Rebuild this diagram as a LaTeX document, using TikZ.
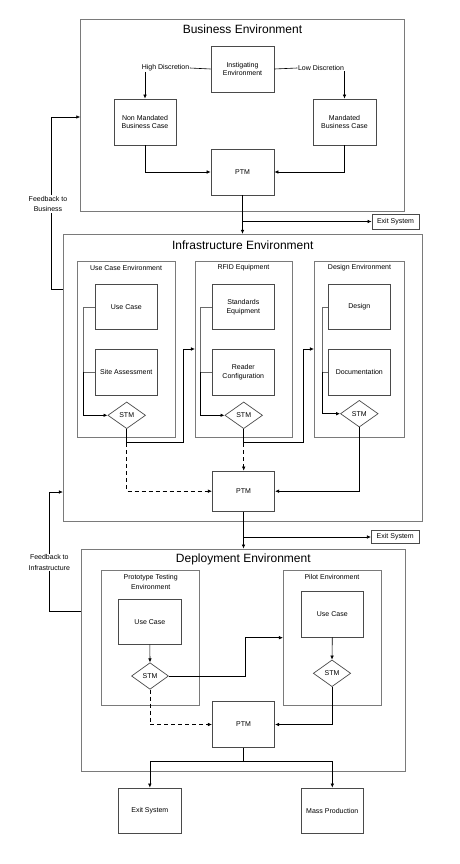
\documentclass[tikz,border=0pt]{standalone}
\usepackage{fontspec}
\setmainfont{Liberation Sans}
\usetikzlibrary{arrows.meta,shapes.geometric}
\definecolor{envgray}{HTML}{7A7A7A}
\definecolor{boxgray}{HTML}{4A4A4A}
\definecolor{stubgray}{HTML}{6A6A6A}
\tikzset{
  envbox/.style={draw=envgray,line width=0.9pt,rectangle,inner sep=0pt},
  subenv/.style={draw=envgray,line width=0.8pt,rectangle,inner sep=0pt},
  blk/.style={draw=boxgray,line width=0.8pt,rectangle,inner sep=1pt,align=center,font=\fontsize{7}{8.4}\selectfont},
  stmnode/.style={draw=boxgray,line width=0.7pt,diamond,inner sep=0pt,aspect=1.4,font=\fontsize{7}{8.4}\selectfont},
  title/.style={font=\fontsize{12}{14}\selectfont,inner sep=0pt},
  small/.style={font=\fontsize{7}{10.3}\selectfont,align=center,inner sep=0.5pt},
  conn/.style={draw=black,line width=0.6pt},
  arr/.style={conn,-{Latex[length=4pt,width=3.6pt]}},
  stub/.style={draw=stubgray,line width=0.6pt},
}
\begin{document}
\begin{tikzpicture}[x=1pt,y=-1pt]
\useasboundingbox[fill=white] (0,0) rectangle (460,864);

% ---------- Business environment
\node[envbox,minimum width=323.6pt,minimum height=192pt] (busenv) at (242.5,115) {};
\node[title] (bustitle) at (242.5,29) {Business Environment};
\node[blk,minimum width=63pt,minimum height=46pt] (inst) at (242.5,69) {Instigating\\Environment};
\node[small] (hd) at (165.5,68) {High Discretion};
\node[small] (ld) at (321,68) {Low Discretion};
\node[blk,minimum width=62pt,minimum height=46pt] (nonm) at (145,122) {Non Mandated\\Business Case};
\node[blk,minimum width=63pt,minimum height=46pt] (mand) at (344.5,122) {Mandated\\Business Case};
\node[blk,minimum width=63pt,minimum height=46pt] (ptm1) at (242.5,172) {PTM};
\node[blk,minimum width=47pt,minimum height=15pt] (exit1) at (395.5,221.5) {Exit System};

\draw[conn] (inst.west) -- (hd.east);
\draw[conn] (inst.east) -- (ld.west);
\draw[arr] (nonm.north |- hd.south) -- (nonm.north);
\draw[arr] (mand.north |- ld.south) -- (mand.north);
\draw[arr] (nonm.south) |- (ptm1.west);
\draw[arr] (mand.south) |- (ptm1.east);

% ---------- Infrastructure environment
\node[envbox,minimum width=359.4pt,minimum height=287.4pt] (infra) at (243,378) {};
\node[title] (inftitle) at (242.7,245) {Infrastructure Environment};
\node[subenv,minimum width=98pt,minimum height=175.3pt] (uce) at (126.3,349.35) {};
\node[subenv,minimum width=96.7pt,minimum height=175.3pt] (rfid) at (243.65,349.35) {};
\node[subenv,minimum width=90.4pt,minimum height=175.3pt] (dse) at (359.5,349.35) {};
\node[small] (ucelab) at (126,267.7) {Use Case Environment};
\node[small] (rfidlab) at (243.5,267.7) {RFID Equipment};
\node[small] (dselab) at (359.5,267.7) {Design Environment};

\node[blk,minimum width=62pt,minimum height=45.4pt] (uc) at (126.3,307) {Use Case};
\node[blk,minimum width=62pt,minimum height=45.7pt] (sa) at (126.3,372.2) {Site Assessment};
\node[blk,minimum width=62pt,minimum height=45.4pt] (se) at (243.3,307) {Standards\\Equipment};
\node[blk,minimum width=62pt,minimum height=45.7pt] (rc) at (243.3,372.2) {Reader\\Configuration};
\node[blk,minimum width=62pt,minimum height=45.4pt] (des) at (359.3,307) {Design};
\node[blk,minimum width=62pt,minimum height=45.7pt] (doc) at (359.3,372.2) {Documentation};

\node[stmnode,minimum width=37.7pt,minimum height=26.7pt] (stm1) at (126.7,415.3) {STM};
\node[stmnode,minimum width=37.7pt,minimum height=26.7pt] (stm2) at (243.7,415.3) {STM};
\node[stmnode,minimum width=37.7pt,minimum height=26.7pt] (stm3) at (359.3,413.7) {STM};

\node[blk,minimum width=62.4pt,minimum height=40.3pt] (ptm2) at (243.5,491.2) {PTM};
\node[blk,minimum width=47.7pt,minimum height=12.6pt] (exit2) at (395.2,537) {Exit System};

\coordinate (l1) at (83.3,0);
\coordinate (l2) at (200.3,0);
\coordinate (l3) at (322,0);
\draw[stub] (uc.west) -- (uc.west -| l1) -- (sa.west -| l1);
\draw[stub] (sa.west) -- (sa.west -| l1);
\draw[arr,line width=1.1pt] (sa.west -| l1) |- (stm1.west);
\draw[stub] (se.west) -- (se.west -| l2) -- (rc.west -| l2);
\draw[stub] (rc.west) -- (rc.west -| l2);
\draw[arr,line width=0.9pt] (rc.west -| l2) |- (stm2.west);
\draw[stub] (des.west) -- (des.west -| l3) -- (doc.west -| l3);
\draw[stub] (doc.west) -- (doc.west -| l3);
\draw[arr,line width=0.8pt] (doc.west -| l3) |- (stm3.west);

\coordinate (j1) at (183,442.7);
\coordinate (j1b) at (183,349);
\coordinate (j2) at (303,442.7);
\coordinate (j2b) at (303,349);
\draw[arr] (stm1.south) |- (j1) -- (j1b) -- (j1b -| rfid.west);
\draw[arr] (stm2.south) |- (j2) -- (j2b) -- (j2b -| dse.west);
\draw[arr,dashed,dash pattern=on 4pt off 3pt] (stm1.south) |- (ptm2.west);
\draw[arr,dashed,dash pattern=on 4pt off 3pt] (stm2.south) -- (stm2.south |- ptm2.north);
\draw[arr] (stm3.south) |- (ptm2.east);

% business -> infrastructure
\draw[arr] (ptm1.south) -- (ptm1.south |- infra.north);
\draw[arr] (ptm1.south |- exit1.west) -- (exit1.west);

% ---------- Deployment environment
\node[envbox,minimum width=323.6pt,minimum height=222.7pt] (dep) at (243.5,660.35) {};
\node[title] (deptitle) at (243.3,559.7) {Deployment Environment};
\node[subenv,minimum width=98pt,minimum height=134.3pt] (pte) at (150.3,637.85) {};
\node[subenv,minimum width=98pt,minimum height=134.3pt] (pil) at (332.3,637.85) {};
\node[small] (ptelab) at (150.7,582.2) {Prototype Testing\\Environment};
\node[small] (pillab) at (332,577) {Pilot Environment};

\node[blk,minimum width=62.3pt,minimum height=45.3pt] (uc2) at (149.85,621.65) {Use Case};
\node[blk,minimum width=62pt,minimum height=45.7pt] (uc3) at (332.3,614.15) {Use Case};
\node[stmnode,minimum width=37pt,minimum height=26.6pt] (stm4) at (150,676) {STM};
\node[stmnode,minimum width=37.4pt,minimum height=26.7pt] (stm5) at (332,673.3) {STM};
\node[blk,minimum width=62.4pt,minimum height=45.6pt] (ptm3) at (243.5,724.5) {PTM};
\node[blk,minimum width=62.3pt,minimum height=45.7pt] (exit3) at (149.85,810.85) {Exit System};
\node[blk,minimum width=62pt,minimum height=45.7pt] (mass) at (332.3,810.85) {Mass Production};

\draw[arr] (uc2.south) -- (stm4.north);
\draw[arr] (uc3.south) -- (stm5.north);
\coordinate (k) at (245.3,637.7);
\draw[arr] (stm4.east) -| (k) -- (k -| pil.west);
\draw[arr] (stm5.south) |- (ptm3.east);
\draw[arr,dashed,dash pattern=on 4pt off 3pt] (stm4.south) |- (ptm3.west);
\coordinate (m) at (243.5,761.3);
\draw[arr] (ptm3.south) -- (ptm3.south |- m) -| (exit3.north);
\draw[arr] (ptm3.south |- m) -| (mass.north);

% infrastructure -> deployment
\draw[arr] (ptm2.south) -- (ptm2.south |- dep.north);
\draw[arr] (ptm2.south |- exit2.west) -- (exit2.west);

% ---------- Feedback loops
\coordinate (fb1a) at (51,289);
\coordinate (fb1b) at (51,117);
\draw[arr] (fb1a -| infra.west) -- (fb1a) -- (fb1b) -- (fb1b -| busenv.west);
\node[small,fill=white,inner sep=1pt] (fblab1) at (48,204) {Feedback to\\Business};

\coordinate (fb2a) at (49.7,611);
\coordinate (fb2b) at (49.7,492);
\draw[arr] (fb2a -| dep.west) -- (fb2a) -- (fb2b) -- (fb2b -| infra.west);
\node[small,fill=white,inner sep=1pt] (fblab2) at (49.3,562.5) {Feedback to\\Infrastructure};
\end{tikzpicture}
\end{document}
